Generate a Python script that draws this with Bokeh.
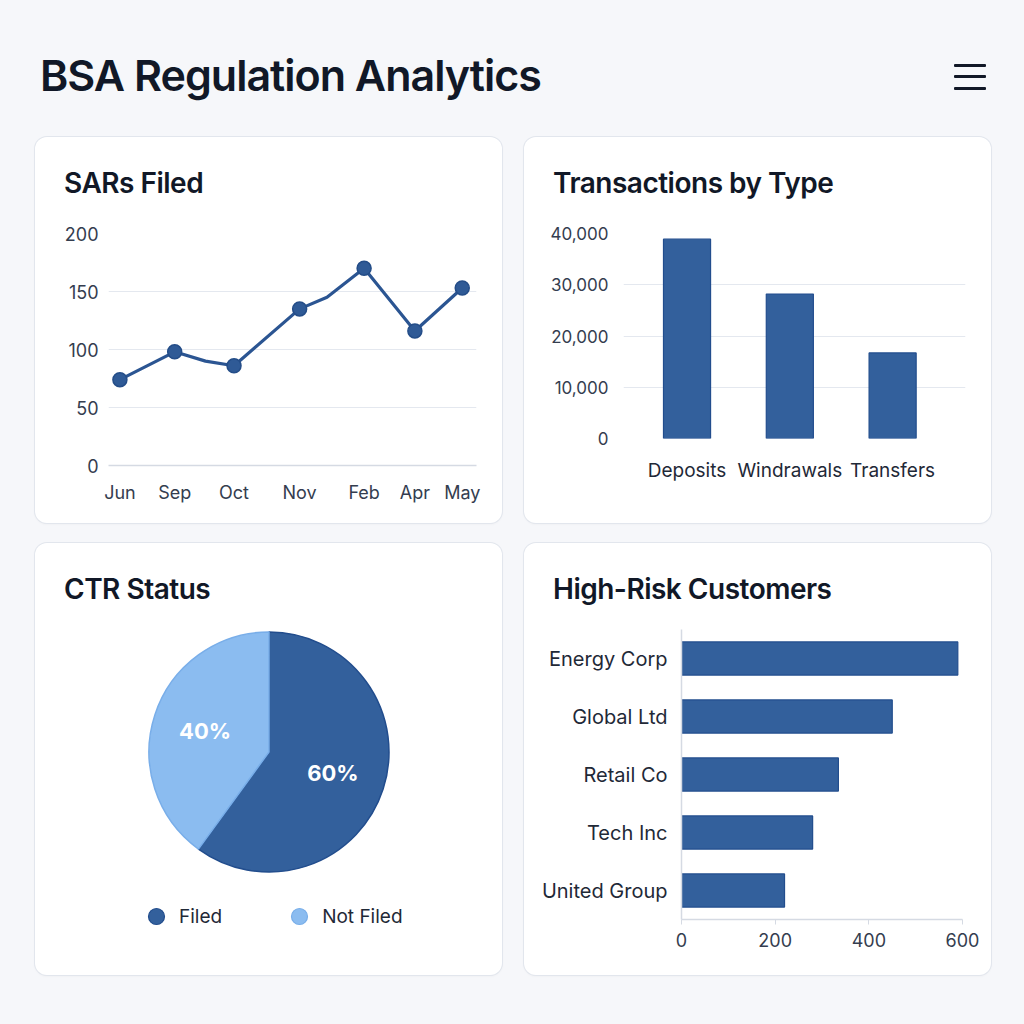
import math
from bokeh.plotting import figure
from bokeh.layouts import column, row
from bokeh.models import (Div, Range1d, FixedTicker, NumeralTickFormatter, FactorRange,
                          Legend, LegendItem, ColumnDataSource, GlobalInlineStyleSheet)
from bokeh.embed import file_html
from bokeh.resources import INLINE
from bokeh.core.properties import value

# ---------------- data ----------------
sar_pos = [0, 0.96, 1.50, 2.0, 3.15, 3.63, 4.28, 5.17, 6.0]
sar_values = [74, 98, 90, 86, 135, 145, 170, 116, 153]
sar_months = ["Jun", "Sep", "", "Oct", "Nov", "", "Feb", "Apr", "May"]
sar_yticks = [0, 50, 100, 150, 200]

txn_types = ["Deposits", "Windrawals", "Transfers"]
txn_values = [38900, 28200, 16700]
txn_yticks = [0, 10000, 20000, 30000, 40000]

ctr_labels = ["Filed", "Not Filed"]
ctr_values = [60, 40]

cust_names = ["Energy Corp", "Global Ltd", "Retail Co", "Tech Inc", "United Group"]
cust_values = [590, 450, 335, 280, 220]
cust_xticks = [0, 200, 400, 600]

# ---------------- style ----------------
FONT = "Inter"
TITLE_C = "#111827"
TICK_C = "#343d4f"
LABEL_C = "#1f2937"
GRID_C = "#e4e8ef"
AXIS_C = "#d5dae3"
BLUE = "#33609c"
BLUE_EDGE = "#224d8d"
LINE_C = "#2b5592"
LIGHT = "#8bbcf0"
LIGHT_EDGE = "#79aee9"
CARD_W = 467


def base_fig(h, **kw):
    p = figure(width=CARD_W, height=h, output_backend="svg", toolbar_location=None, **kw)
    p.background_fill_alpha = 0
    p.border_fill_alpha = 0
    p.outline_line_color = None
    p.margin = 0
    return p


def style_axis(ax, size="18px", color=TICK_C):
    ax.major_label_text_font = FONT
    ax.major_label_text_font_size = size
    ax.major_label_text_color = color
    ax.major_tick_in = 0
    ax.major_tick_out = 0
    ax.minor_tick_in = 0
    ax.minor_tick_out = 0


def card(title, fig):
    d = Div(text=(f'<div style="font-family:Inter;font-weight:600;font-size:28px;line-height:28px;'
                  f'letter-spacing:-0.5px;color:{TITLE_C};padding:32px 0 0 29px;white-space:nowrap;">{title}</div>'),
            width=CARD_W, height=80, margin=0)
    return column(d, fig, spacing=0, margin=0,
                  styles={"background": "#ffffff", "border-radius": "12px",
                          "box-shadow": "0 0 0 1px #e2e6ed, 0 1px 3px rgba(16,24,40,0.05)"})


# ---------------- SARs Filed (line) ----------------
p1 = base_fig(306, x_range=Range1d(-0.2, 6.25), y_range=Range1d(0, 200),
              min_border_left=73, min_border_right=26, min_border_top=16, min_border_bottom=58)
p1.line(sar_pos, sar_values, line_width=3.2, line_color=LINE_C, line_join="round")
mk_x = [x for x, m in zip(sar_pos, sar_months) if m]
mk_y = [y for y, m in zip(sar_values, sar_months) if m]
p1.scatter(mk_x, mk_y, size=14, fill_color="#2f5a96", line_color="#244d88", line_width=1.5)
p1.xgrid.grid_line_color = None
p1.ygrid.grid_line_color = GRID_C
p1.ygrid.ticker = FixedTicker(ticks=sar_yticks)
p1.yaxis.ticker = FixedTicker(ticks=sar_yticks)
p1.xaxis.ticker = FixedTicker(ticks=mk_x)
p1.xaxis.major_label_overrides = {x: m for x, m in zip(sar_pos, sar_months) if m}
style_axis(p1.xaxis[0])
style_axis(p1.yaxis[0])
p1.yaxis.axis_line_color = None
p1.xaxis.axis_line_color = AXIS_C
p1.xaxis.axis_line_width = 1.5
p1.yaxis.major_label_standoff = 10
p1.xaxis.major_label_standoff = 16

# ---------------- Transactions by Type (bars) ----------------
idx = list(range(len(txn_types)))
p2 = base_fig(306, x_range=Range1d(-0.618, 2.709), y_range=Range1d(0, 40000),
              min_border_left=99, min_border_right=26, min_border_top=16, min_border_bottom=85)
p2.vbar(x=idx, top=txn_values, width=0.458, fill_color=BLUE, line_color=BLUE_EDGE, line_width=1.2)
p2.xgrid.grid_line_color = None
p2.ygrid.grid_line_color = GRID_C
p2.ygrid.ticker = FixedTicker(ticks=txn_yticks)
p2.yaxis.ticker = FixedTicker(ticks=txn_yticks)
p2.yaxis.formatter = NumeralTickFormatter(format="0,0")
p2.xaxis.ticker = FixedTicker(ticks=idx)
p2.xaxis.major_label_overrides = {i: t for i, t in zip(idx, txn_types)}
style_axis(p2.xaxis[0], size="19px", color=LABEL_C)
style_axis(p2.yaxis[0], size="17px")
p2.yaxis.axis_line_color = None
p2.xaxis.axis_line_color = None
p2.yaxis.major_label_standoff = 15
p2.xaxis.major_label_standoff = 20

# ---------------- CTR Status (pie) ----------------
R_PX = 120.0
cx_px, cy_px = 233.5, 128.5
H3 = 352
p3 = base_fig(H3, x_range=Range1d(-cx_px / R_PX, (CARD_W - cx_px) / R_PX),
              y_range=Range1d(-(H3 - cy_px) / R_PX, cy_px / R_PX),
              min_border_left=0, min_border_right=0, min_border_top=0, min_border_bottom=0)
p3.axis.visible = False
p3.grid.grid_line_color = None
total = float(sum(ctr_values))
starts, ends, mids = [], [], []
a = math.pi / 2
for v in ctr_values:
    span = v / total * 2 * math.pi
    starts.append(a)
    ends.append(a - span)
    mids.append(a - span / 2)
    a -= span
nan = float("nan")
src3 = ColumnDataSource(dict(start=starts, end=ends, color=[BLUE, LIGHT], edge=[BLUE_EDGE, LIGHT_EDGE],
                             tx=[0.56 * math.cos(m) for m in mids], ty=[0.56 * math.sin(m) for m in mids],
                             pct=[f"{v / total * 100:.0f}%" for v in ctr_values],
                             nx=[nan] * len(ctr_values), ny=[nan] * len(ctr_values)))
p3.wedge(x=0, y=0, radius=1, start_angle="start", end_angle="end", direction="clock",
         fill_color="color", line_color="edge", line_width=1.5, source=src3)
p3.text(x="tx", y="ty", text="pct", source=src3, text_color="white", text_font=value(FONT),
        text_font_size="22px", text_font_style="bold", text_align="center", text_baseline="middle")
r_leg = p3.scatter(x="nx", y="ny", size=17, fill_color="color", line_color="edge", line_width=1.2,
                   source=src3)
leg = Legend(items=[LegendItem(label=ctr_labels[i], renderers=[r_leg], index=i) for i in range(len(ctr_labels))],
             orientation="horizontal", location=(101, 39), padding=0, margin=0, spacing=57,
             glyph_width=40, glyph_height=40, label_standoff=3,
             label_text_font=FONT, label_text_font_size="19px", label_text_color=LABEL_C,
             border_line_color=None, background_fill_alpha=0)
p3.add_layout(leg)

# ---------------- High-Risk Customers (hbar) ----------------
p4 = base_fig(352, y_range=FactorRange(factors=list(reversed(cust_names))), x_range=Range1d(0, 600),
              min_border_left=157, min_border_right=29, min_border_top=6, min_border_bottom=56)
p4.hbar(y=cust_names, right=cust_values, left=0, height=0.57,
        fill_color=BLUE, line_color=BLUE_EDGE, line_width=1.2)
p4.grid.grid_line_color = None
p4.xaxis.ticker = FixedTicker(ticks=cust_xticks)
style_axis(p4.xaxis[0])
style_axis(p4.yaxis[0], size="20px", color=LABEL_C)
p4.xaxis.major_tick_out = 5
p4.xaxis.major_tick_line_color = AXIS_C
p4.xaxis.axis_line_color = AXIS_C
p4.yaxis.axis_line_color = AXIS_C
p4.xaxis.axis_line_width = 1.5
p4.yaxis.axis_line_width = 1.5
p4.xaxis.major_label_standoff = 8
p4.yaxis.major_label_standoff = 14

# ---------------- header ----------------
bar = "position:absolute;left:946px;width:32px;height:3px;background:#111827;border-radius:1px;"
header = Div(text=(
    '<div style="position:relative;width:1008px;height:129px;">'
    '<div style="position:absolute;left:32px;top:46px;font-family:Inter;font-weight:600;font-size:43px;'
    f'line-height:43px;letter-spacing:-1.0px;color:{TITLE_C};white-space:nowrap;">BSA Regulation Analytics</div>'
    f'<div style="{bar}top:56px;"></div><div style="{bar}top:67px;"></div><div style="{bar}top:79px;"></div>'
    '</div>'), width=1008, height=129, margin=0)

row1 = row(card("SARs Filed", p1), card("Transactions by Type", p2), spacing=22, margin=(0, 0, 0, 27))
row2 = row(card("CTR Status", p3), card("High-Risk Customers", p4), spacing=22, margin=(20, 0, 0, 27))
page = column(header, row1, row2, spacing=0, margin=(8, 0, 0, 8),
              stylesheets=[GlobalInlineStyleSheet(css="body{background:#f6f7fa;}")])

html = file_html(page, INLINE, title="BSA Regulation Analytics")
html = html.replace("<body>", '<body style="background:#f6f7fa;">')
open("out.html", "w").write(html)
